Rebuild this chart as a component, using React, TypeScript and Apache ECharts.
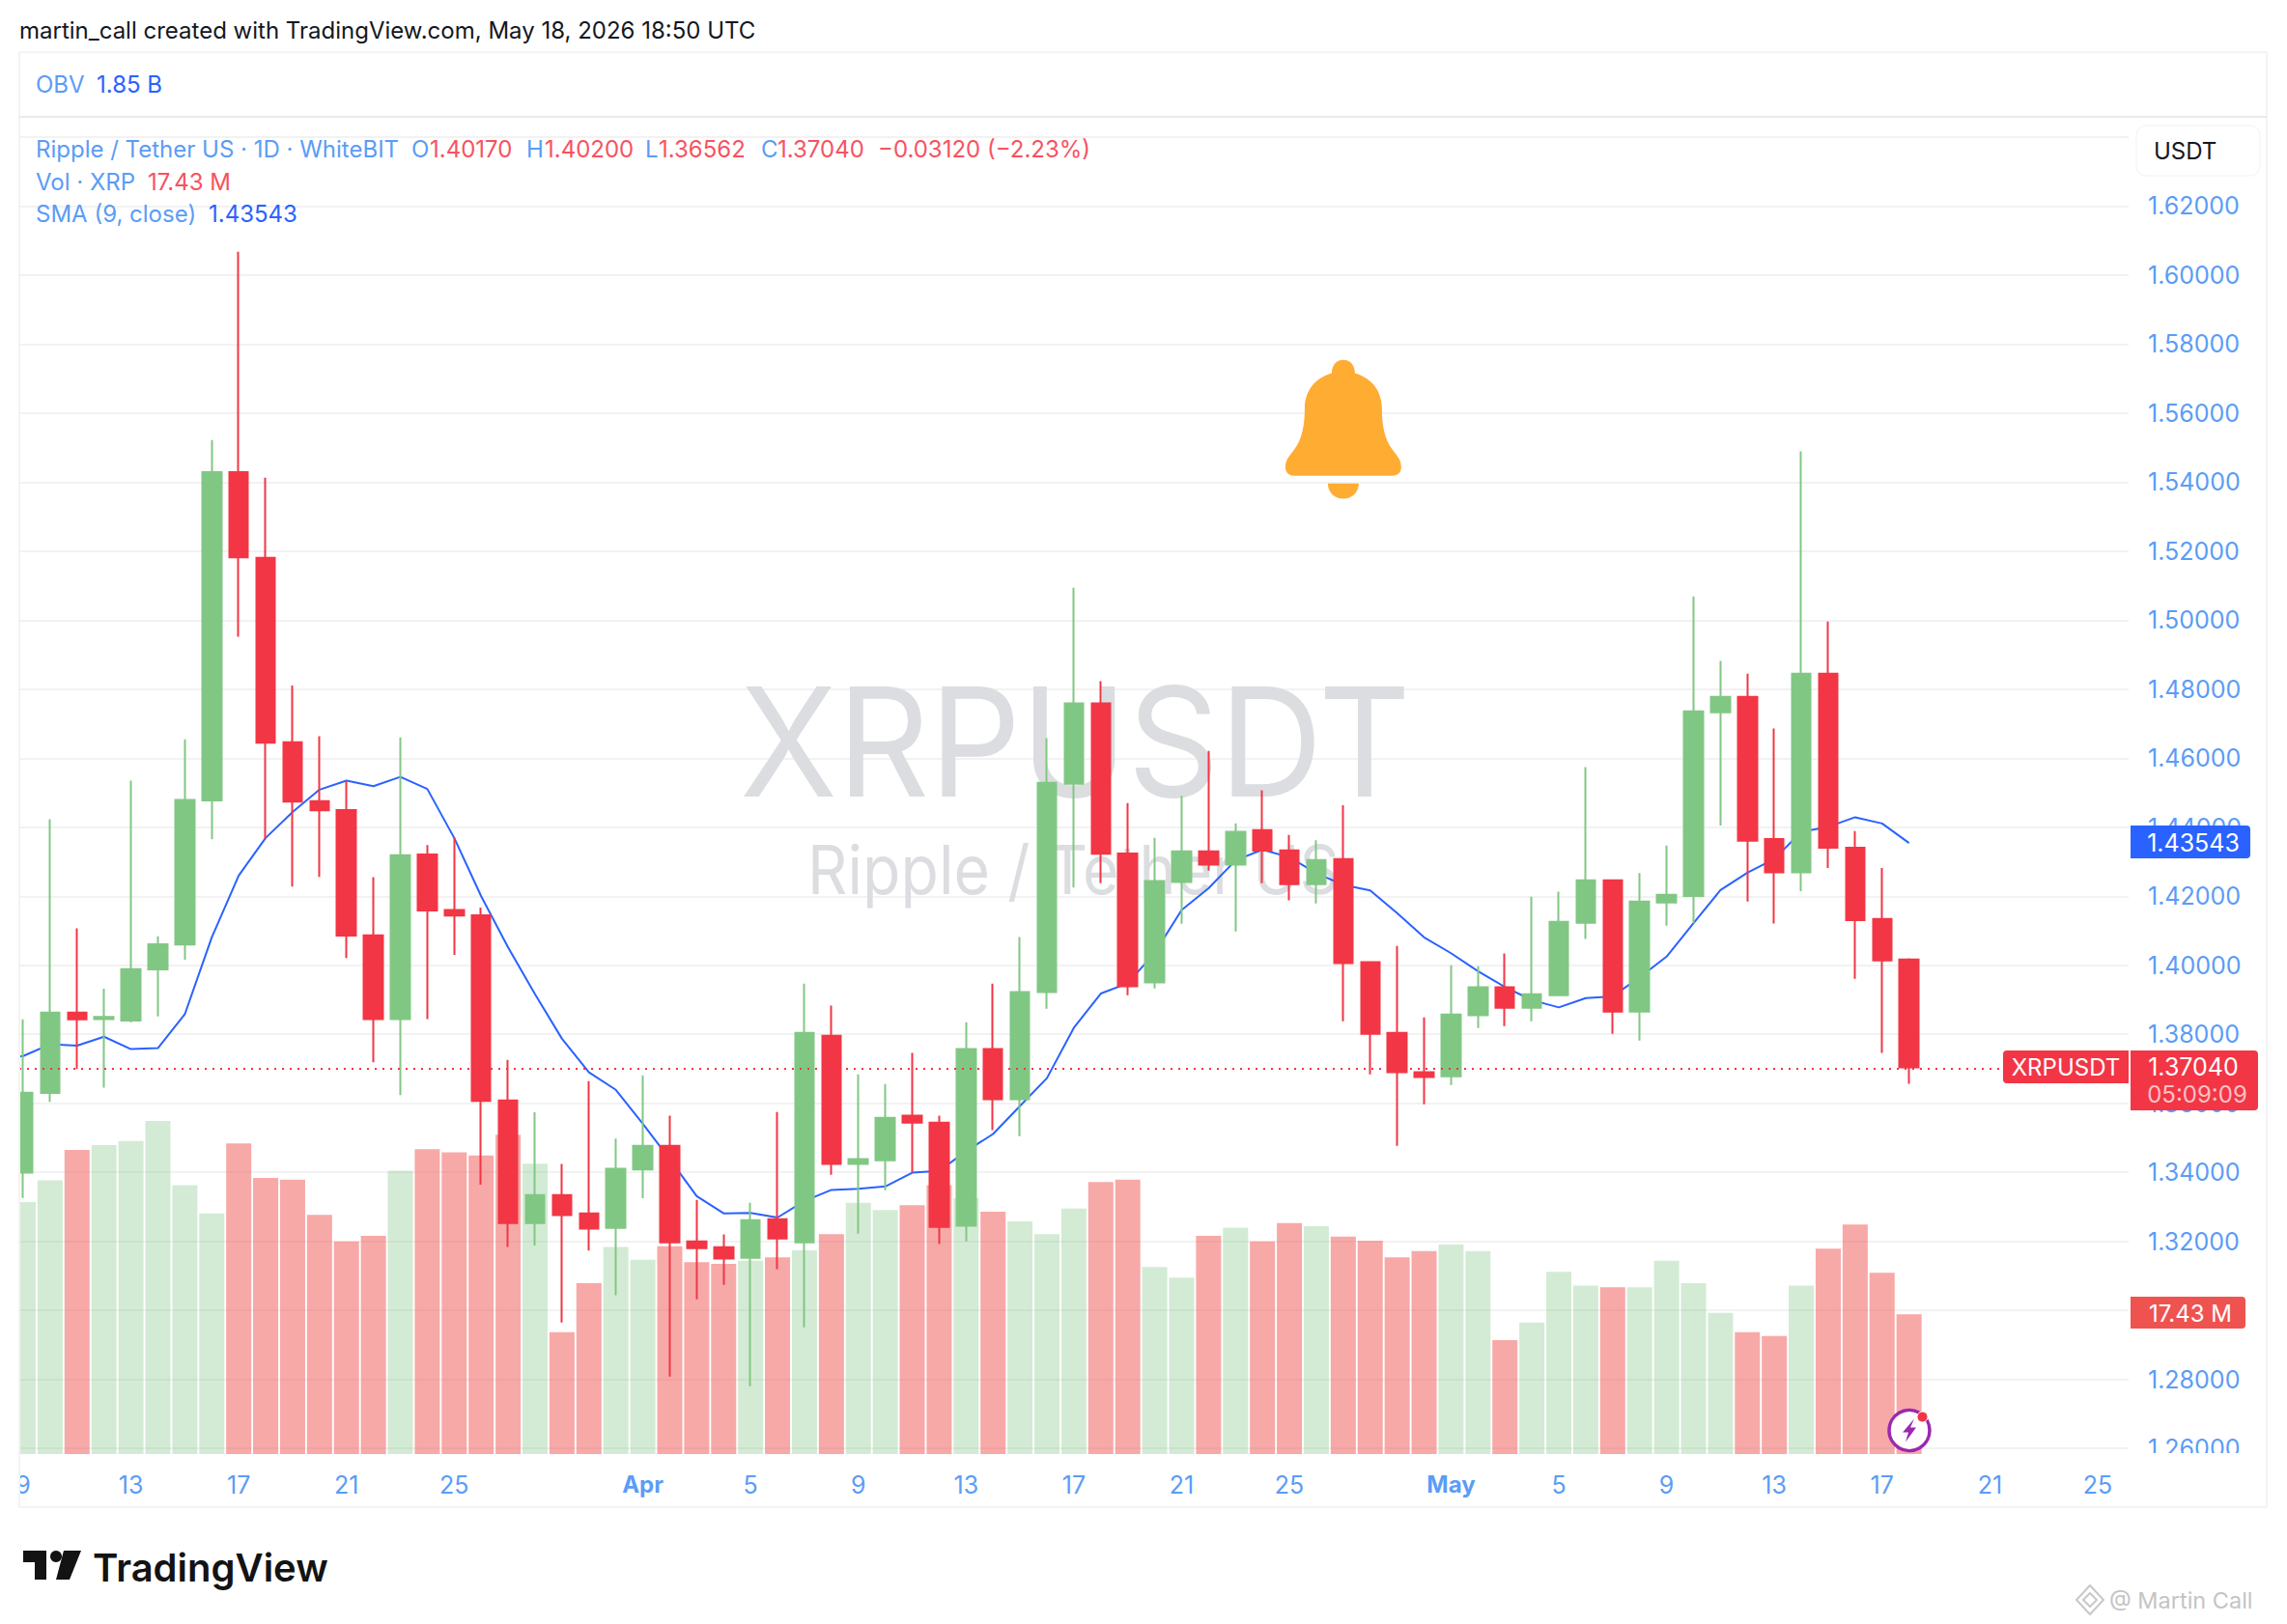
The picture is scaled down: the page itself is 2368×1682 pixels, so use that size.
import React, { useEffect, useRef } from "react";
import * as echarts from "echarts";

const opens = [1.3399,1.3630,1.3863,1.3844,1.3840,1.3988,1.4060,1.4478,1.5429,1.5181,1.4646,1.4476,1.4450,1.4087,1.3844,1.4321,1.4160,1.4145,1.3608,1.3253,1.3334,1.3281,1.3239,1.3408,1.3477,1.3200,1.3183,1.3152,1.3264,1.3197,1.3796,1.3424,1.3435,1.3564,1.3544,1.3245,1.3757,1.3612,1.3922,1.4526,1.4759,1.4324,1.3950,1.4241,1.4330,1.4292,1.4392,1.4333,1.4235,1.4308,1.4009,1.3804,1.3690,1.3678,1.3855,1.3936,1.3877,1.3913,1.4123,1.4246,1.3866,1.4182,1.4201,1.4733,1.4778,1.4366,1.4269,1.4845,1.4341,1.4134,1.4017];
const closes = [1.3631,1.3863,1.3843,1.3850,1.3989,1.4061,1.4479,1.5429,1.5182,1.4645,1.4474,1.4449,1.4086,1.3844,1.4319,1.4159,1.4144,1.3607,1.3253,1.3334,1.3276,1.3237,1.3410,1.3477,1.3197,1.3180,1.3150,1.3261,1.3208,1.3804,1.3424,1.3438,1.3558,1.3544,1.3242,1.3757,1.3612,1.3922,1.4529,1.4759,1.4323,1.3939,1.4244,1.4330,1.4292,1.4387,1.4332,1.4235,1.4305,1.4006,1.3801,1.3690,1.3676,1.3857,1.3936,1.3877,1.3916,1.4126,1.4246,1.3866,1.4185,1.4204,1.4736,1.4778,1.4361,1.4269,1.4845,1.4341,1.4131,1.4014,1.3704];
const lows = [1.3326,1.3604,1.3699,1.3645,1.3835,1.3852,1.4016,1.4365,1.4952,1.4365,1.4228,1.4256,1.4021,1.3719,1.3624,1.3844,1.4030,1.3364,1.3184,1.3188,1.2965,1.3173,1.3044,1.3325,1.2808,1.3032,1.3074,1.2780,1.3119,1.2951,1.3393,1.3222,1.3348,1.3399,1.3192,1.3200,1.3522,1.3505,1.3874,1.4225,1.4238,1.3913,1.3933,1.4120,1.4274,1.4098,1.4238,1.4188,1.4179,1.3838,1.3684,1.3477,1.3597,1.3653,1.3818,1.3824,1.3838,1.3911,1.4076,1.3801,1.3782,1.4115,1.4122,1.4405,1.4185,1.4121,1.4215,1.4282,1.3961,1.3746,1.36562];
const highs = [1.3843,1.4423,1.4107,1.3932,1.4535,1.4084,1.4655,1.5522,1.6068,1.5413,1.4811,1.4664,1.4535,1.4255,1.4660,1.4348,1.4369,1.4167,1.3726,1.3574,1.3424,1.3664,1.3498,1.3681,1.3564,1.3320,1.3220,1.3312,1.3575,1.3947,1.3883,1.3684,1.3656,1.3746,1.3564,1.3835,1.3947,1.4082,1.4658,1.5094,1.4823,1.4470,1.4369,1.4491,1.4621,1.4411,1.4507,1.4378,1.4362,1.4464,1.4009,1.4056,1.3849,1.4000,1.3997,1.4034,1.4199,1.4213,1.4574,1.4246,1.4267,1.4347,1.5069,1.4882,1.4845,1.4686,1.5489,1.4996,1.4389,1.4282,1.4020];
const volumes = [31.4,34.1,37.9,38.5,39.0,41.5,33.5,30.0,38.7,34.4,34.2,29.8,26.5,27.2,35.3,38.0,37.6,37.2,39.8,36.2,15.2,21.3,25.8,24.2,25.9,23.9,23.7,24.1,24.5,25.4,27.4,31.3,30.4,31.0,33.5,31.9,30.2,29.0,27.4,30.6,33.9,34.2,23.3,22.0,27.2,28.2,26.5,28.8,28.4,27.1,26.6,24.5,25.3,26.1,25.3,14.2,16.4,22.7,21.0,20.8,20.8,24.1,21.3,17.6,15.2,14.7,21.0,25.6,28.6,22.6,17.43];
// SMA(9, close); the first value belongs to the day before the first candle, which lies off the left edge.
const smaValues = [1.3728,1.3737,1.3771,1.3767,1.3793,1.3757,1.3760,1.3858,1.4081,1.4260,1.4369,1.4444,1.4509,1.4535,1.4519,1.4546,1.4511,1.4369,1.4200,1.4052,1.3916,1.3787,1.3690,1.3639,1.3541,1.3438,1.3331,1.3281,1.3282,1.3269,1.3317,1.3349,1.3352,1.3359,1.3399,1.3404,1.3461,1.3511,1.3592,1.3673,1.3819,1.3918,1.3948,1.4036,1.4160,1.4223,1.4304,1.4335,1.4313,1.4267,1.4233,1.4217,1.4151,1.4081,1.4035,1.3983,1.3937,1.3899,1.3878,1.3905,1.3910,1.3965,1.4025,1.4122,1.4218,1.4268,1.4308,1.4387,1.4401,1.4429,1.4411,1.43543];
const tickDays = [0,4,8,12,16,23,27,31,35,39,43,47,53,57,61,65,69,73,77];
const tickLabels = ["9","13","17","21","25","Apr","5","9","13","17","21","25","May","5","9","13","17","21","25"];
const lastClose = 1.3704;

const BLUE_TEXT = "#5b9cf6";
const BLUE = "#2962ff";
const RED = "#f23645";
const RED_TEXT = "#f7525f";
const GREEN = "#81c784";
const GRID = "#f2f2f2";
const FONT = "Inter";

const BELL = "M333 98C310 98 297 116 297 140C245 155 213 195 213 250C213 300 205 345 180 378C165 398 153 410 153 432C153 448 163 459 180 459L486 459C503 459 513 448 513 432C513 410 501 398 486 378C461 345 453 300 453 250C453 195 421 155 369 140C369 116 356 98 333 98ZM285 483L381 483C381 510 360 530 333 530C306 530 285 510 285 483Z";
const BOLT = "M5 -12L-7 2L-1 2L-4 12L7 -3L1 -3Z";

function txt(text: string, x: number, y: number, fill: string, fontSize: number, extra: any = {}, z = 100, scaleX = 1) {
  return { type: "text", x, y, z, scaleX, silent: true, style: { text, fill, fontSize, fontFamily: FONT, verticalAlign: "middle", align: "left", ...extra } };
}
function box(x: number, y: number, w: number, h: number, fill: string, r: any = 0, z = 90, stroke?: string) {
  return { type: "rect", z, silent: true, shape: { x, y, width: w, height: h, r }, style: { fill, stroke } };
}
function rule(x1: number, y1: number, x2: number, y2: number, stroke: string, z = 95) {
  return { type: "line", z, silent: true, shape: { x1, y1, x2, y2 }, style: { stroke, lineWidth: 2 } };
}

export default function App() {
  const ref = useRef<HTMLDivElement>(null);
  useEffect(() => {
    if (!ref.current) return;
    echarts.graphic.registerShape("bell", echarts.graphic.extendPath(BELL, {}) as any);
    echarts.graphic.registerShape("bolt", echarts.graphic.extendPath(BOLT, {}) as any);
    const chart = echarts.init(ref.current, undefined, { renderer: "svg" });
    const xMin = -0.1434;
    const xMax = 78.15;
    const candleData = opens.map((o, i) => [i, o, closes[i], lows[i], highs[i]]);
    const volumeData = volumes.map((v, i) => ({
      value: [i, v],
      itemStyle: { color: closes[i] >= opens[i] ? "rgba(129,199,132,0.35)" : "rgba(239,83,80,0.5)" },
    }));
    const smaData = smaValues.map((v, i) => [i - 1, v]);
    const graphics: any[] = [
      // watermarks behind the series
      txt("XRPUSDT", 766, 768, "#dcdde0", 157, {}, 1, 0.944),
      txt("Ripple / Tether US", 836, 901, "#dcdde0", 70, {}, 1, 0.92),
      { type: "bell", x: 1280, y: 340, scaleX: 1 / 3, scaleY: 1 / 3, z: 50, silent: true, style: { fill: "#ffac33" } },
      // covers for what the pane clips, and the chart frame
      box(2205, 1505, 140, 54, "#ffffff", 0, 80),
      box(0, 122, 19, 1440, "#ffffff", 0, 80),
      rule(20, 54, 2347, 54, "#f3f3f3"),
      rule(20, 54, 20, 1561, "#f3f3f3"),
      rule(2347, 54, 2347, 1561, "#f3f3f3"),
      rule(20, 1561, 2347, 1561, "#f3f3f3"),
      rule(20, 121, 2347, 121, "#e9e9e9"),
      txt("martin_call created with TradingView.com, May 18, 2026 18:50 UTC", 20, 31, "#131722", 24),
      txt("OBV", 37, 87, BLUE_TEXT, 24),
      txt("1.85 B", 100, 87, BLUE, 24),
      txt("Ripple / Tether US · 1D · WhiteBIT", 37, 154, BLUE_TEXT, 24),
      txt("O", 426, 154, BLUE_TEXT, 24),
      txt("1.40170", 445, 154, RED_TEXT, 24),
      txt("H", 545, 154, BLUE_TEXT, 24),
      txt("1.40200", 564, 154, RED_TEXT, 24),
      txt("L", 668, 154, BLUE_TEXT, 24),
      txt("1.36562", 682, 154, RED_TEXT, 24),
      txt("C", 788, 154, BLUE_TEXT, 24),
      txt("1.37040", 805, 154, RED_TEXT, 24),
      txt("−0.03120 (−2.23%)", 909, 154, RED_TEXT, 24),
      txt("Vol · XRP", 37, 188, BLUE_TEXT, 24),
      txt("17.43 M", 153, 188, RED_TEXT, 24),
      txt("SMA (9, close)", 37, 221.5, BLUE_TEXT, 24),
      txt("1.43543", 216, 221.5, BLUE, 24),
      box(2212, 130, 128, 52, "#ffffff", 10, 90, "#f2f2f2"),
      txt("USDT", 2230, 156, "#131722", 24),
      // price tags
      box(2206, 855, 124, 34, BLUE, [0, 4, 4, 0]),
      txt("1.43543", 2271, 873, "#ffffff", 25, { align: "center" }),
      box(2074, 1088, 130, 34, RED, [4, 0, 0, 4]),
      txt("XRPUSDT", 2139, 1105, "#ffffff", 24, { align: "center" }),
      box(2206, 1088, 132, 62, RED, [0, 4, 4, 0]),
      txt("1.37040", 2271, 1105, "#ffffff", 25, { align: "center" }),
      txt("05:09:09", 2275, 1133, "rgba(255,255,255,0.7)", 24, { align: "center" }),
      box(2206, 1343, 119, 33, "#ef5350", [0, 4, 4, 0]),
      txt("17.43 M", 2268, 1360, "#ffffff", 24, { align: "center" }),
      // lightning badge
      { type: "circle", z: 60, silent: true, shape: { cx: 1977, cy: 1481.5, r: 21 }, style: { fill: "#ffffff", stroke: "#9c27b0", lineWidth: 3.5 } },
      { type: "bolt", z: 61, x: 1977, y: 1481.5, silent: true, style: { fill: "#9c27b0" } },
      { type: "circle", z: 62, silent: true, shape: { cx: 1990.5, cy: 1467.5, r: 5.5 }, style: { fill: RED, stroke: "#ffffff", lineWidth: 1 } },
      // TradingView logo
      { type: "polygon", z: 100, silent: true, shape: { points: [[24, 1606], [48, 1606], [48, 1636], [36, 1636], [36, 1618], [24, 1618]] }, style: { fill: "#131313" } },
      { type: "circle", z: 100, silent: true, shape: { cx: 58, cy: 1612, r: 6 }, style: { fill: "#131313" } },
      { type: "polygon", z: 100, silent: true, shape: { points: [[66, 1606], [84, 1606], [72, 1636], [58, 1636]] }, style: { fill: "#131313" } },
      txt("TradingView", 96, 1623, "#131313", 40, { fontWeight: 600 }),
      // bottom-right watermark
      { type: "polygon", z: 100, silent: true, shape: { points: [[2164, 1642], [2178, 1657], [2164, 1672], [2150, 1657]] }, style: { fill: "none", stroke: "#c8c8c8", lineWidth: 2 } },
      { type: "polygon", z: 100, silent: true, shape: { points: [[2164, 1650], [2171, 1657], [2164, 1664], [2157, 1657]] }, style: { fill: "none", stroke: "#c8c8c8", lineWidth: 2 } },
      txt("@ Martin Call", 2184, 1657, "#c4c4c4", 23.5),
    ];
    chart.setOption({
      animation: false,
      backgroundColor: "#ffffff",
      textStyle: { fontFamily: FONT },
      grid: [
        { left: 20, width: 2184, top: 142, height: 1358.1 },
        { left: 20, width: 2184, top: 123, height: 1383 },
      ],
      xAxis: [
        { type: "value", gridIndex: 0, min: xMin, max: xMax, show: false, splitLine: { show: false } },
        {
          type: "value",
          gridIndex: 1,
          min: xMin,
          max: xMax,
          axisLine: { show: false },
          axisTick: { show: false },
          splitLine: { show: false },
          axisLabel: {
            customValues: tickDays,
            margin: 19,
            fontSize: 25,
            fontFamily: FONT,
            color: BLUE_TEXT,
            formatter: (v: number) => {
              const t = tickLabels[tickDays.indexOf(v)] ?? "";
              return /[A-Z]/.test(t) ? `{b|${t}}` : t;
            },
            rich: { b: { fontSize: 24, fontWeight: 700, fontFamily: FONT, color: BLUE_TEXT } },
          },
        },
      ],
      yAxis: [
        {
          type: "value",
          gridIndex: 0,
          position: "right",
          min: 1.26,
          max: 1.64,
          interval: 0.02,
          axisLine: { show: false },
          axisTick: { show: false },
          splitLine: { show: true, lineStyle: { color: GRID, width: 2 } },
          axisLabel: {
            margin: 20,
            fontSize: 25,
            fontFamily: FONT,
            color: BLUE_TEXT,
            showMaxLabel: false,
            padding: [2, 0, 0, 0],
            formatter: (v: number) => v.toFixed(5),
          },
        },
        { type: "value", gridIndex: 1, min: 0, max: 166.4, show: false, splitLine: { show: false } },
      ],
      graphic: { elements: graphics },
      series: [
        {
          name: "Vol",
          type: "bar",
          xAxisIndex: 1,
          yAxisIndex: 1,
          barWidth: 26,
          z: 2,
          data: volumeData,
        },
        {
          name: "SMA",
          type: "line",
          xAxisIndex: 0,
          yAxisIndex: 0,
          z: 3,
          showSymbol: false,
          symbol: "none",
          lineStyle: { color: BLUE, width: 2 },
          data: smaData,
          markLine: {
            silent: true,
            symbol: "none",
            animation: false,
            label: { show: false },
            lineStyle: { color: RED, width: 2, type: [2, 6] },
            data: [{ yAxis: lastClose }],
          },
        },
        {
          name: "XRPUSDT",
          type: "candlestick",
          xAxisIndex: 0,
          yAxisIndex: 0,
          z: 4,
          barWidth: 20,
          itemStyle: {
            color: GREEN,
            color0: RED,
            borderColor: GREEN,
            borderColor0: RED,
            borderWidth: 2,
          },
          data: candleData,
        },
      ],
    });
    return () => chart.dispose();
  }, []);
  return <div ref={ref} style={{ position: "fixed", left: 0, top: 0, width: 2368, height: 1682 }} />;
}
